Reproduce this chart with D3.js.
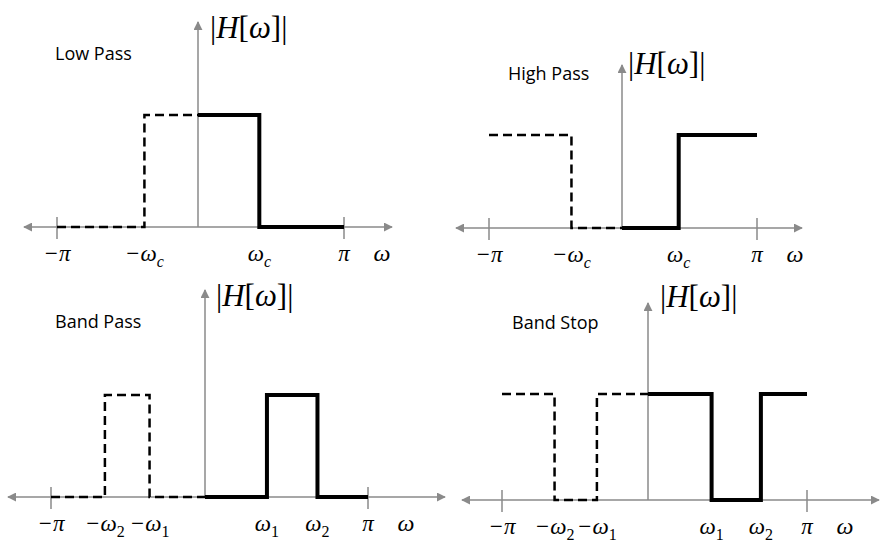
<!DOCTYPE html>
<html><head><meta charset="utf-8">
<script src="https://cdn.jsdelivr.net/npm/d3@7"></script>
<style>body{margin:0;background:#fff}</style>
</head><body>
<svg id="c" width="888" height="546"></svg>
<script>
// filter responses, x in units of pi, y = |H| (0 or 1)
const lowPassDashed  = [[-1,0],[-0.38,0],[-0.38,1],[0,1]];
const lowPassSolid   = [[0,1],[0.42,1],[0.42,0],[1,0]];
const highPassDashed = [[-1,1],[-0.38,1],[-0.38,0],[0,0]];
const highPassSolid  = [[0,0],[0.42,0],[0.42,1],[1,1]];
const bandPassDashed = [[-1,0],[-0.65,0],[-0.65,1],[-0.36,1],[-0.36,0],[0,0]];
const bandPassSolid  = [[0,0],[0.38,0],[0.38,1],[0.69,1],[0.69,0],[1,0]];
const bandStopDashed = [[-1,1],[-0.64,1],[-0.64,0],[-0.35,0],[-0.35,1],[0,1]];
const bandStopSolid  = [[0,1],[0.40,1],[0.40,0],[0.71,0],[0.71,1],[1,1]];

// tick labels: [position, main, subscript]
const lowTicks  = [[-1,"−π",""],[-0.38,"−ω","c"],[0.42,"ω","c"],[1,"π",""]];
const highTicks = [[-1,"−π",""],[-0.38,"−ω","c"],[0.42,"ω","c"],[1,"π",""]];
const bpTicks   = [[-1,"−π",""],[-0.65,"−ω","2"],[-0.36,"−ω","1"],[0.38,"ω","1"],[0.69,"ω","2"],[1,"π",""]];
const bsTicks   = [[-1,"−π",""],[-0.64,"−ω","2"],[-0.35,"−ω","1"],[0.40,"ω","1"],[0.71,"ω","2"],[1,"π",""]];
const titles = ["Low Pass","High Pass","Band Pass","Band Stop"];

// layout per panel (pixels)
const panels = [
  {title:titles[0], dashed:lowPassDashed, solid:lowPassSolid, ticks:lowTicks,
   x0:57, xc:198, x1:344, axL:24, axR:392, y0:227, yHi:115, yTop:22, tx:55, ty:60, hx:210, hy:38},
  {title:titles[1], dashed:highPassDashed, solid:highPassSolid, ticks:highTicks,
   x0:489, xc:622, x1:757, axL:456, axR:802, y0:228, yHi:135, yTop:65, tx:508, ty:80, hx:628, hy:74},
  {title:titles[2], dashed:bandPassDashed, solid:bandPassSolid, ticks:bpTicks,
   x0:51, xc:205, x1:368, axL:8, axR:445, y0:497, yHi:395, yTop:290, tx:55, ty:328, hx:216, hy:306},
  {title:titles[3], dashed:bandStopDashed, solid:bandStopSolid, ticks:bsTicks,
   x0:502, xc:648, x1:807, axL:462, axR:879, y0:500, yHi:394, yTop:303, tx:512, ty:329, hx:660, hy:307}
];

const svg = d3.select("#c");
const defs = svg.append("defs");
defs.append("marker").attr("id","arr").attr("viewBox","0 0 10 10")
  .attr("refX",9).attr("refY",5).attr("markerWidth",9).attr("markerHeight",9)
  .attr("orient","auto-start-reverse").attr("markerUnits","userSpaceOnUse")
  .append("path").attr("d","M0,0 L10,5 L0,10 z").attr("fill","#8a8a8a");

const serif = "Liberation Serif, DejaVu Serif, serif";

panels.forEach(p => {
  const x = d3.scaleLinear().domain([-1,0,1]).range([p.x0,p.xc,p.x1]);
  const y = d3.scaleLinear().domain([0,1]).range([p.y0,p.yHi]);
  const g = svg.append("g");
  const grey = "#8a8a8a";

  // axes
  g.append("line").attr("x1",p.axL).attr("x2",p.axR).attr("y1",p.y0).attr("y2",p.y0)
    .attr("stroke",grey).attr("stroke-width",1.5)
    .attr("marker-start","url(#arr)").attr("marker-end","url(#arr)");
  g.append("line").attr("x1",x(0)).attr("x2",x(0)).attr("y1",p.y0).attr("y2",p.yTop)
    .attr("stroke",grey).attr("stroke-width",1.5).attr("marker-end","url(#arr)");
  [-1,1].forEach(v => g.append("line").attr("x1",x(v)).attr("x2",x(v))
    .attr("y1",p.y0-10).attr("y2",p.y0+12).attr("stroke",grey).attr("stroke-width",1.5));

  const line = d3.line().x(d => x(d[0])).y(d => y(d[1]));
  g.append("path").attr("d",line(p.dashed)).attr("fill","none").attr("stroke","#000")
    .attr("stroke-width",2.5).attr("stroke-dasharray","9,5");
  g.append("path").attr("d",line(p.solid)).attr("fill","none").attr("stroke","#000")
    .attr("stroke-width",4);

  // tick labels
  p.ticks.forEach(t => {
    const tx = g.append("text").attr("x",x(t[0])).attr("y",p.y0+34)
      .attr("text-anchor","middle").attr("font-family",serif)
      .attr("font-style","italic").attr("font-size",23);
    tx.append("tspan").text(t[1]);
    if (t[2]) tx.append("tspan").attr("dy",6).attr("font-size",16)
      .attr("font-style", t[2]==="c" ? "italic" : "normal").text(t[2]);
  });
  g.append("text").attr("x",x(1)+38).attr("y",p.y0+34).attr("text-anchor","middle")
    .attr("font-family",serif).attr("font-style","italic")
    .attr("font-size",24).text("ω");

  g.append("text").attr("x",p.tx).attr("y",p.ty).attr("font-family","Open Sans, sans-serif")
    .attr("font-size",18).text(p.title);
  const h = g.append("text").attr("x",p.hx).attr("y",p.hy).attr("font-family",serif)
    .attr("font-size",31);
  h.append("tspan").text("|");
  h.append("tspan").attr("font-style","italic").text("H");
  h.append("tspan").text("[");
  h.append("tspan").attr("font-style","italic").text("ω");
  h.append("tspan").text("]|");
});
</script>
</body></html>
